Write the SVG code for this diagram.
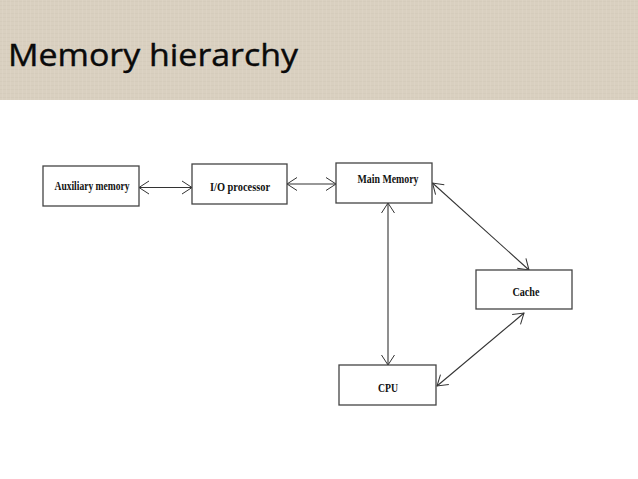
<svg xmlns="http://www.w3.org/2000/svg" width="638" height="479" viewBox="0 0 638 479">
  <defs>
    <pattern id="linen" width="4" height="4" patternUnits="userSpaceOnUse">
      <rect width="4" height="4" fill="#d9d0c0"/>
      <path d="M0,1.5 H4" stroke="#cfc6b5" stroke-width="0.7" opacity="0.5"/>
      <path d="M2.5,0 V4" stroke="#e2dacb" stroke-width="0.7" opacity="0.5"/>
    </pattern>
    <marker id="head" markerWidth="20" markerHeight="20" refX="0" refY="0" viewBox="-12 -10 14 20" markerUnits="userSpaceOnUse" orient="auto-start-reverse">
      <path d="M-10,-6.5 L0,0 L-10,6.5" fill="none" stroke="#333" stroke-width="1"/>
    </marker>
    <style>
      .box { fill: #ffffff; stroke: #444; stroke-width: 1.3; }
      .lbl { font-family: "Liberation Serif", "Times New Roman", serif; font-weight: bold; font-size: 13px; fill: #111; text-anchor: middle; }
      .conn { fill: none; stroke: #333; stroke-width: 1.1; marker-start: url(#head); marker-end: url(#head); }
      .title { font-family: "Open Sans", "Noto Sans", sans-serif; font-size: 31px; fill: #0a0a0a; stroke: #0a0a0a; stroke-width: 0.4; }
    </style>
  </defs>

  <rect x="0" y="0" width="638" height="479" fill="#ffffff"/>
  <rect x="0" y="0" width="638" height="100" fill="url(#linen)"/>
  <text class="title" x="8" y="66" textLength="290" lengthAdjust="spacingAndGlyphs">Memory hierarchy</text>

  <g id="connectors">
    <line class="conn" x1="139" y1="187.5" x2="192" y2="187.5"/>
    <line class="conn" x1="287" y1="184" x2="336" y2="184"/>
    <line class="conn" x1="388" y1="203" x2="388" y2="365"/>
    <line class="conn" x1="432.5" y1="183" x2="529" y2="270"/>
    <line class="conn" x1="524" y1="313" x2="437" y2="386"/>
  </g>

  <g id="aux">
    <rect class="box" x="43" y="166" width="96" height="40"/>
    <text class="lbl" x="92" y="190" textLength="75" lengthAdjust="spacingAndGlyphs">Auxiliary memory</text>
  </g>
  <g id="io">
    <rect class="box" x="192" y="164" width="95" height="40"/>
    <text class="lbl" x="240" y="191" textLength="60" lengthAdjust="spacingAndGlyphs">I/O processor</text>
  </g>
  <g id="main">
    <rect class="box" x="336" y="163" width="96" height="40"/>
    <text class="lbl" x="388" y="183" textLength="61" lengthAdjust="spacingAndGlyphs">Main Memory</text>
  </g>
  <g id="cache">
    <rect class="box" x="476" y="270" width="96" height="39"/>
    <text class="lbl" x="526" y="296" textLength="27" lengthAdjust="spacingAndGlyphs">Cache</text>
  </g>
  <g id="cpu">
    <rect class="box" x="339" y="365" width="97" height="40"/>
    <text class="lbl" x="388" y="392" textLength="20" lengthAdjust="spacingAndGlyphs">CPU</text>
  </g>
</svg>
